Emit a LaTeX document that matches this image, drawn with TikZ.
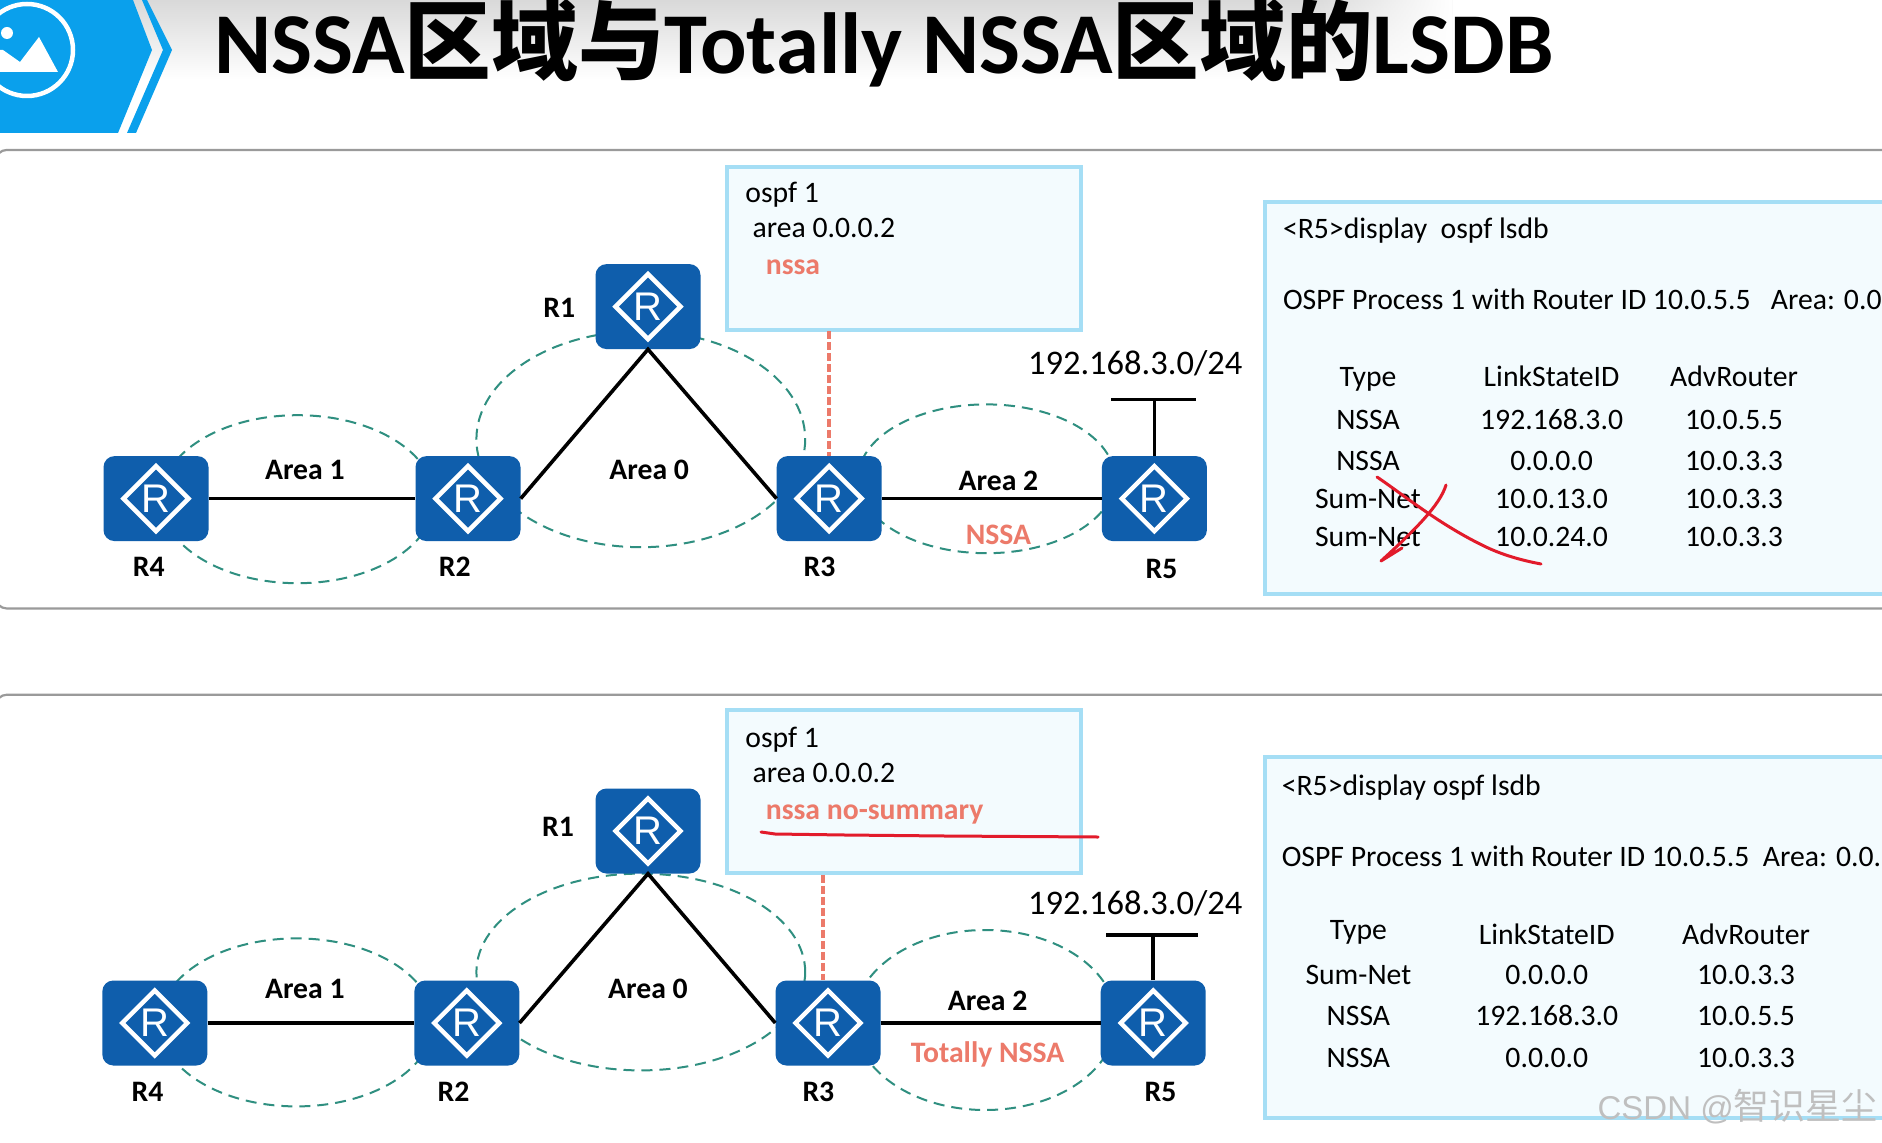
\documentclass[tikz,border=0pt]{standalone}
\usepackage{fontspec}
\setmainfont{Carlito}
\newfontfamily\cjk{Noto Sans CJK SC}
\newfontfamily\rfont{Liberation Sans}
\usetikzlibrary{shapes.geometric,calc,fadings}
\definecolor{rblue}{HTML}{0F5EAC}
\definecolor{hblue}{HTML}{0AA0EC}
\definecolor{teal2}{HTML}{2F8F80}
\definecolor{salmon}{HTML}{EC7A6A}
\definecolor{boxline}{HTML}{A5DEF5}
\definecolor{boxfill}{HTML}{F3FBFE}
\definecolor{panel}{HTML}{9A9A9A}
\definecolor{inkred}{HTML}{E21B2B}
\tikzfading[name=fadeup, left color=transparent!100, right color=transparent!0]
\tikzset{
  router/.style={rectangle,rounded corners=11pt,fill=rblue,text=white,minimum width=105pt,minimum height=85pt,inner sep=0pt,
    font=\rfont\fontsize{40}{40}\selectfont,
    path picture={\draw[sharp corners,white,line width=4.5pt] ([xshift=-32.5pt]path picture bounding box.center) -- ([yshift=32.5pt]path picture bounding box.center) -- ([xshift=32.5pt]path picture bounding box.center) -- ([yshift=-32.5pt]path picture bounding box.center) -- cycle;}},
  link/.style={black,line width=3.6pt},
  area/.style={teal2,line width=2pt,dash pattern=on 11pt off 7pt},
  tie/.style={salmon,line width=4pt,dash pattern=on 8pt off 3pt},
  cfg/.style={draw=boxline,fill=boxfill,line width=4pt,outer sep=0pt,inner sep=0pt,anchor=north west},
  pan/.style={draw=panel,line width=2.2pt,rounded corners=10pt},
  ink/.style={inkred,line width=3pt,line cap=round,line join=round},
  txt/.style={font=\fontsize{29.7}{30}\selectfont,text=black,inner sep=0pt,yshift=-7pt},
  lt/.style={txt,anchor=mid west},
  ct/.style={txt,anchor=mid},
  bl/.style={font=\fontsize{29.7}{30}\selectfont\bfseries,text=black,inner sep=0pt,anchor=mid,yshift=-7pt},
  rd/.style={font=\fontsize{29.7}{30}\selectfont\bfseries,text=salmon,inner sep=0pt,yshift=-7pt}
}
\begin{document}
\begin{tikzpicture}[x=1.2pt,y=-1.2pt]
\clip (0,0) rectangle (1568.33,951.67);
\fill[white] (0,0) rectangle (1568.33,951.67);
% header
\shade[top color=black!15,bottom color=white] (0,0) rectangle (1210,66);
\fill[white,path fading=fadeup] (1090,0) rectangle (1210,66);
\begin{scope}[x=1pt,y=-1pt]
\fill[hblue] (0,0) -- (133,0) -- (152,50) -- (118,133) -- (0,133) -- cycle;
\fill[hblue] (142,0) -- (163,50) -- (127,133) -- (136,133) -- (172,50) -- (147,0) -- cycle;
\draw[white,line width=4.5pt] (27,50) circle (46);
\fill[white] (7,33) circle (6);
\fill[white] (0,50) -- (3,50) -- (20,62) -- (39,37) -- (58,72) -- (0,72) -- cycle;
\node[anchor=base west,inner sep=0pt,font=\fontsize{86.7}{87}\selectfont\bfseries,text=black] (title) at (214,74)
  {NSSA{\cjk\bfseries 区域与}Totally NSSA{\cjk\bfseries 区域的}LSDB};
\end{scope}
% panels
\draw[pan] (-3,125) rectangle (1640,507);
\draw[pan] (-3,579) rectangle (1640,1040);
% ---------- top diagram
\draw[area] (248,416) ellipse [x radius=114,y radius=70];
\draw[area] (534,366) ellipse [x radius=137,y radius=90];
\draw[area] (822,399) ellipse [x radius=107,y radius=62];
\node[router] (r1a) at (540,255.5) {R};
\node[router] (r4a) at (130,415.5) {R};
\node[router] (r2a) at (390,415.5) {R};
\node[router] (r3a) at (691,415.5) {R};
\node[router] (r5a) at (962,415.5) {R};
\draw[link] (r4a) -- (r2a);
\draw[link] (r2a.east) -- (r1a.south) -- (r3a.west);
\draw[link] (r3a) -- (r5a);
\coordinate (sa) at (962,333);
\coordinate (sal) at (926,333);
\coordinate (sar) at (997,333);
\draw[link] (r5a.north) -- (sa);
\draw[link] (sal) -- (sar);
\node[cfg,minimum width=354pt,minimum height=163pt] (boxa) at (605.5,139) {};
\coordinate (da) at (691,276);
\draw[tie] (da) -- (r3a.north -| da);
\node[lt] (t1) at (621,161) {ospf 1};
\node[lt] (t2) at (627,190) {area 0.0.0.2};
\node[rd,anchor=mid west] (t3) at (638,221) {nssa};
\node[bl] (l1) at (254,392) {Area 1};
\node[bl] (l2) at (541,392) {Area 0};
\node[bl] (l3) at (832,401) {Area 2};
\node[rd,anchor=mid] (l4) at (832,446) {NSSA};
\node[bl] (n1) at (466,257) {R1};
\node[bl] (n4) at (124,473) {R4};
\node[bl] (n2) at (379,473) {R2};
\node[bl] (n3) at (683,473) {R3};
\node[bl] (n5) at (968,474) {R5};
\node[ct,font=\fontsize{34.5}{36}\selectfont] (nw1) at (946,304) {192.168.3.0/24};
\node[cfg,minimum width=800pt,minimum height=392pt] (lsa) at (1054.5,168) {};
\node[lt] (a0) at (1069,191) {<R5>display\ \ ospf lsdb};
\node[lt] (a1) at (1069,250) {OSPF Process 1 with Router ID 10.0.5.5\ \ \ Area: 0.0};
\node[ct] (a2) at (1140,314) {Type};
\node[ct] (a3) at (1293,314) {LinkStateID};
\node[ct] (a4) at (1445,314) {AdvRouter};
\node[ct] (a5) at (1140,350) {NSSA};
\node[ct] (a6) at (1293,350) {192.168.3.0};
\node[ct] (a7) at (1445,350) {10.0.5.5};
\node[ct] (a8) at (1140,384) {NSSA};
\node[ct] (a9) at (1293,384) {0.0.0.0};
\node[ct] (a10) at (1445,384) {10.0.3.3};
\node[ct] (a11) at (1140,416) {Sum-Net};
\node[ct] (a12) at (1293,416) {10.0.13.0};
\node[ct] (a13) at (1445,416) {10.0.3.3};
\node[ct] (a14) at (1140,448) {Sum-Net};
\node[ct] (a15) at (1293,448) {10.0.24.0};
\node[ct] (a16) at (1445,448) {10.0.3.3};
\begin{scope}[x=1pt,y=-1pt]
\draw[ink] (1377,477) .. controls (1405,496) and (1440,525) .. (1486,547) .. controls (1505,556) and (1525,561) .. (1541,564);
\draw[ink] (1446,485) .. controls (1440,505) and (1415,530) .. (1381,561) -- (1402,548);
\end{scope}
% ---------- bottom diagram
\draw[area] (247,852) ellipse [x radius=114,y radius=70];
\draw[area] (534,810) ellipse [x radius=137,y radius=82];
\draw[area] (821,850) ellipse [x radius=109,y radius=75];
\node[router] (r1b) at (540,692.5) {R};
\node[router] (r4b) at (129,852.5) {R};
\node[router] (r2b) at (389,852.5) {R};
\node[router] (r3b) at (690,852.5) {R};
\node[router] (r5b) at (961,852.5) {R};
\draw[link] (r4b) -- (r2b);
\draw[link] (r2b.east) -- (r1b.south) -- (r3b.west);
\draw[link] (r3b) -- (r5b);
\coordinate (sb) at (961,779);
\coordinate (sbl) at (922,779);
\coordinate (sbr) at (998,779);
\draw[link] (r5b.north) -- (sb);
\draw[link] (sbl) -- (sbr);
\node[cfg,minimum width=354pt,minimum height=163pt] (boxb) at (605.5,592) {};
\coordinate (db) at (686,729);
\draw[tie] (db) -- (r3b.north -| db);
\node[lt] (u1) at (621,615) {ospf 1};
\node[lt] (u2) at (627,644) {area 0.0.0.2};
\node[rd,anchor=mid west] (u3) at (638,675) {nssa no-summary};
\node[bl] (m1) at (254,824) {Area 1};
\node[bl] (m2) at (540,824) {Area 0};
\node[bl] (m3) at (823,834) {Area 2};
\node[rd,anchor=mid] (m4) at (823,878) {Totally NSSA};
\node[bl] (k1) at (465,689) {R1};
\node[bl] (k4) at (123,910) {R4};
\node[bl] (k2) at (378,910) {R2};
\node[bl] (k3) at (682,910) {R3};
\node[bl] (k5) at (967,910) {R5};
\node[ct,font=\fontsize{34.5}{36}\selectfont] (nw2) at (946,754) {192.168.3.0/24};
\node[cfg,minimum width=800pt,minimum height=361pt] (lsb) at (1054.5,631) {};
\node[lt] (b0) at (1068,655) {<R5>display ospf lsdb};
\node[lt] (b1) at (1068,714) {OSPF Process 1 with Router ID 10.0.5.5\ \ Area: 0.0.};
\node[ct] (b2) at (1132,775) {Type};
\node[ct] (b3) at (1289,779) {LinkStateID};
\node[ct] (b4) at (1455,779) {AdvRouter};
\node[ct] (b5) at (1132,813) {Sum-Net};
\node[ct] (b6) at (1289,813) {0.0.0.0};
\node[ct] (b7) at (1455,813) {10.0.3.3};
\node[ct] (b8) at (1132,847) {NSSA};
\node[ct] (b9) at (1289,847) {192.168.3.0};
\node[ct] (b10) at (1455,847) {10.0.5.5};
\node[ct] (b11) at (1132,882) {NSSA};
\node[ct] (b12) at (1289,882) {0.0.0.0};
\node[ct] (b13) at (1455,882) {10.0.3.3};
\begin{scope}[x=1pt,y=-1pt]
\draw[ink] (761,832) -- (775,834) -- (845,835) -- (945,836) -- (1098,837);
\end{scope}
\node[anchor=mid east,inner sep=0pt,yshift=-11pt,text=black!25,font=\rfont\fontsize{33}{34}\selectfont] (wm) at (1565,922) {CSDN @{\cjk\fontsize{36}{36}\selectfont 智识星尘}};
\end{tikzpicture}
\end{document}
